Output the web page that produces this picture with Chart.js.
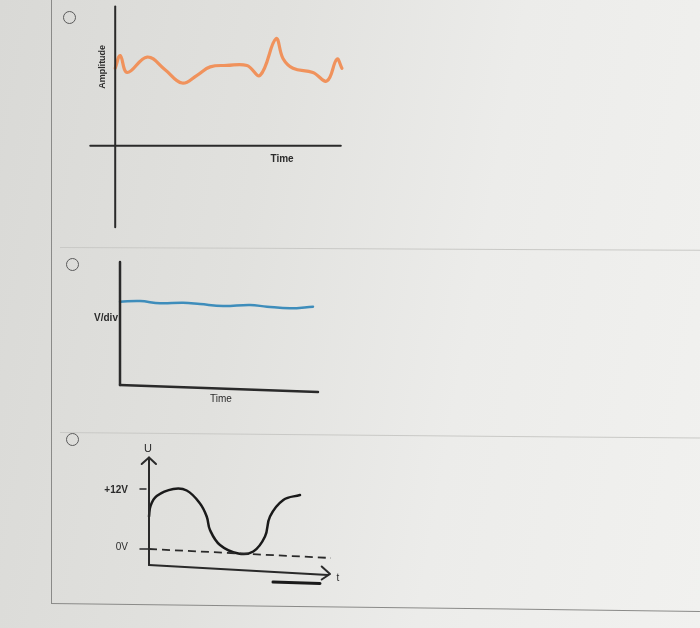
<!DOCTYPE html>
<html>
<head>
<meta charset="utf-8">
<script src="https://cdn.jsdelivr.net/npm/chart.js@4.4.1/dist/chart.umd.min.js"></script>
<style>
  html, body { margin: 0; padding: 0; }
  body {
    width: 700px; height: 628px; position: relative; overflow: hidden;
    background: linear-gradient(100deg, #d9d9d6 0%, #e1e1de 35%, #ececea 65%, #f1f1ef 100%);
  }
  canvas { position: absolute; }
  .frame { position: absolute; background: #8a8a88; }
  .sep { position: absolute; background: #c9c9c6; height: 1px; }
  .radio { position: absolute; width: 11px; height: 11px; border: 1.5px solid #5a5a5a; border-radius: 50%; }
</style>
</head>
<body>
<div class="frame" style="left:51px; top:0; width:1px; height:604px;"></div>
<div class="frame" style="left:51px; top:603px; width:649px; height:1px; transform: rotate(0.7deg); transform-origin: 0 0;"></div>
<div class="sep" style="left:60px; top:247px; width:640px; transform: rotate(0.25deg); transform-origin: 0 0;"></div>
<div class="sep" style="left:60px; top:432px; width:640px; transform: rotate(0.5deg); transform-origin: 0 0;"></div>
<div class="radio" style="left:63px; top:11px;"></div>
<div class="radio" style="left:66px; top:258px;"></div>
<div class="radio" style="left:66px; top:433px;"></div>

<canvas id="ampChart" style="left:88px; top:5px;" width="263" height="225"></canvas>
<canvas id="vdivChart" style="left:85px; top:255px;" width="245" height="150"></canvas>
<canvas id="sigChart" style="left:95px; top:440px;" width="255" height="150"></canvas>

<script>
// panel 1 - amplitude vs time (orange trace)
const ampTime = [0, 2.2, 5.3, 14.1, 22.0, 29.5, 36.1, 41.9, 49.3, 58.1, 63.9, 70.9, 74.0, 78.4, 87.2, 93.4, 97.8, 100];
const ampValues = [5.5, 6.4, 5.2, 6.3, 5.4, 4.45, 5.0, 5.6, 5.7, 5.7, 5.0, 7.6, 6.2, 5.5, 5.2, 4.6, 6.15, 5.5];
const ampAxisX = [[-11, 0], [99.5, 0]];
const ampAxisY = [[0, -5.8], [0, 9.9]];

// panel 2 - V/div vs time (blue trace)
const vdivTime = [0, 20, 40, 63, 80, 103, 130, 147, 170, 193];
const vdivValues = [83.3, 84, 81.7, 82.3, 81, 79, 80, 78.3, 76.7, 78.3];
const vdivAxisX = [[0, 0], [198, -7]];
const vdivAxisY = [[0, 0], [0, 123]];

// panel 3 - U vs t (black trace, 0V .. +12V)
const sigTime = [0, 1.5, 7.7, 24.3, 37.7, 51, 57.7, 61, 71, 89.3, 104.3, 116, 121, 134.3, 151];
const sigValues = [6.5, 8.6, 10.6, 12.0, 11.7, 9.1, 6.5, 3.8, 0.8, -0.9, -0.5, 2.5, 6.5, 9.8, 10.8];
const sigZeroLine = [[0, 0], [182, -1.8]];
const sigAxisX = [[0, -3.2], [179, -5.2]];
const sigAxisY = [[0, -3.2], [0, 18.3]];
const sigArrowX = [[172.7, -3.5], [181, -5], [172.7, -6.1]];
const sigArrowY = [[-7.3, 17], [0, 18.3], [7, 17]];
const sigTicks = [[[-9, 12], [-3, 12]], [[-9, 0], [0, 0]]];
const sigUnderline = [[124, -6.6], [171, -6.9]];

const pts = (xs, ys) => xs.map((x, i) => ({ x: x, y: ys[i] }));
const pairs = (arr) => arr.map((p) => ({ x: p[0], y: p[1] }));

function lineSet(data, color, width, extra) {
  return Object.assign({
    data: data,
    borderColor: color,
    borderWidth: width,
    pointRadius: 0,
    showLine: true,
    fill: false,
    tension: 0,
    borderCapStyle: 'round',
    borderJoinStyle: 'round',
  }, extra || {});
}

// text labels drawn at data coordinates
const textPlugin = {
  id: 'panelText',
  afterDatasetsDraw(chart, args, opts) {
    const ctx = chart.ctx;
    (opts.items || []).forEach((t) => {
      const px = chart.scales.x.getPixelForValue(t.x);
      const py = chart.scales.y.getPixelForValue(t.y);
      ctx.save();
      ctx.translate(px, py);
      if (t.rotate) ctx.rotate(t.rotate);
      ctx.font = t.font || 'bold 10px "Liberation Sans", Arial, sans-serif';
      ctx.fillStyle = t.color || '#2b2b2b';
      ctx.textAlign = t.align || 'center';
      ctx.textBaseline = 'middle';
      ctx.fillText(t.text, 0, 0);
      ctx.restore();
    });
  },
};

function makePanel(id, xMin, xMax, yMin, yMax, datasets, texts) {
  return new Chart(document.getElementById(id).getContext('2d'), {
    type: 'scatter',
    data: { datasets: datasets },
    options: {
      responsive: false,
      animation: false,
      layout: { padding: 0 },
      scales: {
        x: { type: 'linear', min: xMin, max: xMax, display: false },
        y: { type: 'linear', min: yMin, max: yMax, display: false },
      },
      plugins: {
        legend: { display: false },
        tooltip: { enabled: false },
        panelText: { items: texts },
      },
    },
    plugins: [textPlugin],
  });
}

const axisColor = '#2a2a2a';

makePanel('ampChart', -12, 104, -6, 10, [
  lineSet(pairs(ampAxisX), axisColor, 2),
  lineSet(pairs(ampAxisY), axisColor, 2),
  lineSet(pts(ampTime, ampValues), '#f0925c', 3.2, { tension: 0.4 }),
], [
  { text: 'Amplitude', x: -5.7, y: 5.6, rotate: -Math.PI / 2, font: 'bold 9px "Liberation Sans", Arial, sans-serif' },
  { text: 'Time', x: 73.6, y: -0.95 },
]);

makePanel('vdivChart', -35, 210, -20, 130, [
  lineSet(pairs(vdivAxisX), axisColor, 2.5),
  lineSet(pairs(vdivAxisY), axisColor, 2.5),
  lineSet(pts(vdivTime, vdivValues), '#3e8dbb', 2.5, { tension: 0.4 }),
], [
  { text: 'V/div', x: -14, y: 67 },
  { text: 'Time', x: 101, y: -14, font: '10px "Liberation Sans", Arial, sans-serif' },
]);

makePanel('sigChart', -54, 201, -8.2, 21.8, [
  lineSet(pairs(sigZeroLine), '#2a2a2a', 1.8, { borderDash: [8, 5], borderCapStyle: 'butt' }),
  lineSet(pairs(sigAxisX), axisColor, 2),
  lineSet(pairs(sigAxisY), axisColor, 2),
  lineSet(pairs(sigArrowX), axisColor, 2),
  lineSet(pairs(sigArrowY), axisColor, 2),
  lineSet(pairs(sigTicks[0]), axisColor, 1.5),
  lineSet(pairs(sigTicks[1]), axisColor, 1.5),
  lineSet(pairs(sigUnderline), '#1a1a1a', 3),
  lineSet(pts(sigTime, sigValues), '#1a1a1a', 2.5, { tension: 0.4 }),
], [
  { text: '+12V', x: -21, y: 11.8, align: 'right' },
  { text: '0V', x: -21, y: 0.3, align: 'right', font: '10px "Liberation Sans", Arial, sans-serif' },
  { text: 'U', x: -1, y: 20, font: '11px "Liberation Sans", Arial, sans-serif' },
  { text: 't', x: 189, y: -5.8, font: '10px "Liberation Sans", Arial, sans-serif' },
]);
</script>
</body>
</html>
